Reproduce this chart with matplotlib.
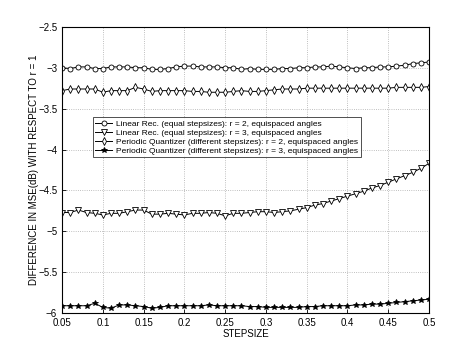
import matplotlib
matplotlib.use("Agg")
import matplotlib.pyplot as plt
import numpy as np

plt.rcParams["font.family"] = ["Liberation Sans", "DejaVu Sans"]

stepsize = np.round(np.arange(0.05, 0.5001, 0.01), 2)

linear_r2 = [
    -3.00, -3.01, -2.99, -2.99, -3.01, -3.01, -2.99, -2.99, -2.99, -3.00,
    -3.00, -3.02, -3.02, -3.01, -2.99, -2.98, -2.98, -2.99, -2.99, -2.99,
    -3.00, -3.00, -3.02, -3.01, -3.02, -3.02, -3.02, -3.01, -3.01, -3.00,
    -3.00, -2.99, -2.99, -2.98, -2.99, -3.00, -3.01, -3.00, -3.00, -2.99,
    -2.99, -2.98, -2.97, -2.95, -2.94, -2.93,
]
linear_r3 = [
    -4.77, -4.77, -4.74, -4.77, -4.78, -4.80, -4.78, -4.78, -4.76, -4.74,
    -4.74, -4.79, -4.79, -4.78, -4.79, -4.80, -4.78, -4.78, -4.77, -4.78,
    -4.81, -4.78, -4.78, -4.77, -4.76, -4.76, -4.77, -4.76, -4.75, -4.73,
    -4.71, -4.68, -4.66, -4.63, -4.60, -4.57, -4.54, -4.51, -4.47, -4.44,
    -4.40, -4.36, -4.32, -4.28, -4.23, -4.17,
]
periodic_r2 = [
    -3.28, -3.26, -3.26, -3.26, -3.26, -3.30, -3.28, -3.28, -3.28, -3.24,
    -3.26, -3.29, -3.28, -3.28, -3.28, -3.28, -3.29, -3.29, -3.30, -3.30,
    -3.30, -3.29, -3.28, -3.29, -3.29, -3.28, -3.27, -3.26, -3.26, -3.26,
    -3.25, -3.25, -3.25, -3.25, -3.25, -3.25, -3.25, -3.25, -3.25, -3.25,
    -3.25, -3.24, -3.24, -3.24, -3.24, -3.23,
]
periodic_r3 = [
    -5.91, -5.91, -5.91, -5.91, -5.88, -5.93, -5.94, -5.90, -5.90, -5.91,
    -5.92, -5.94, -5.93, -5.91, -5.91, -5.91, -5.91, -5.91, -5.90, -5.91,
    -5.91, -5.91, -5.91, -5.92, -5.92, -5.93, -5.93, -5.93, -5.93, -5.93,
    -5.92, -5.92, -5.91, -5.91, -5.91, -5.91, -5.90, -5.90, -5.89, -5.89,
    -5.88, -5.87, -5.86, -5.85, -5.84, -5.83,
]

labels = [
    "Linear Rec. (equal stepsizes): r = 2, equispaced angles",
    "Linear Rec. (equal stepsizes): r = 3, equispaced angles",
    "Periodic Quantizer (different stepsizes): r = 2, equispaced angles",
    "Periodic Quantizer (different stepsizes): r = 3, equispaced angles",
]

fig = plt.figure(figsize=(4.74, 3.53), dpi=100)
ax = fig.add_axes([0.131, 0.113, 0.774, 0.811])

series = [
    (linear_r2, "o", "white", 3.6),
    (linear_r3, "v", "white", 3.8),
    (periodic_r2, "d", "white", 3.8),
    (periodic_r3, "*", "black", 3.8),
]
for (vals, mk, fc, ms), lab in zip(series, labels):
    ax.plot(stepsize, vals, color="black", linewidth=0.7, marker=mk,
            markersize=ms, markerfacecolor=fc, markeredgecolor="black",
            markeredgewidth=0.6, label=lab)

ax.set_xlim(0.05, 0.5)
ax.set_ylim(-6, -2.5)
ax.set_xticks(np.arange(0.05, 0.501, 0.05))
ax.set_xticklabels(["0.05", "0.1", "0.15", "0.2", "0.25", "0.3", "0.35",
                    "0.4", "0.45", "0.5"])
ax.set_yticks(np.arange(-6, -2.49, 0.5))
ax.set_yticklabels(["\u22126", "\u22125.5", "\u22125", "\u22124.5", "\u22124",
                    "\u22123.5", "\u22123", "\u22122.5"])
ax.tick_params(direction="in", labelsize=7, length=3, width=0.6)
ax.grid(True, linestyle=":", color="#aaaaaa", linewidth=0.6)
for s in ax.spines.values():
    s.set_linewidth(0.8)

ax.set_xlabel("STEPSIZE", fontsize=7, labelpad=1)
ax.set_ylabel("DIFFERENCE IN MSE(dB) WITH RESPECT TO r = 1", fontsize=7, labelpad=-1)

leg = ax.legend(loc="upper left", bbox_to_anchor=(0.084, 0.684), fontsize=6,
                frameon=True, fancybox=False, edgecolor="black",
                handlelength=2.0, handletextpad=0.5, borderpad=0.3,
                labelspacing=0.15, borderaxespad=0)
leg.get_frame().set_linewidth(0.6)

fig.savefig("out.png", dpi=100)
